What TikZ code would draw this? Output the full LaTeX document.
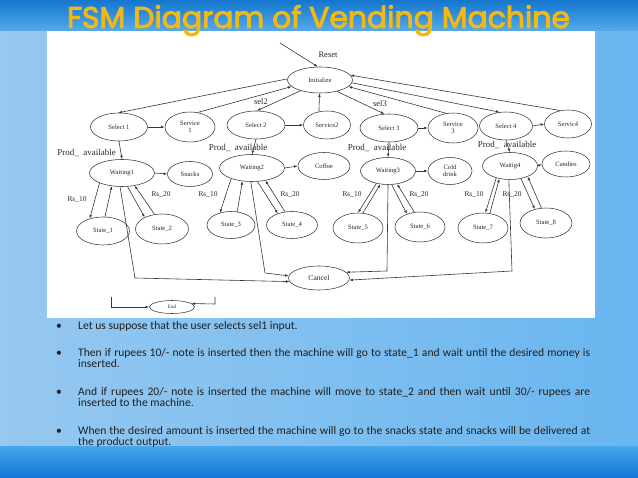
\documentclass[tikz,border=0pt]{standalone}
\usepackage{fontspec}
\setmainfont{Liberation Serif}
\newfontfamily\titlefont[FakeBold=3]{Poppins}
\newfontfamily\bodyfont{Carlito}
\usetikzlibrary{shapes.geometric,arrows.meta}
\definecolor{ttl}{RGB}{242,184,20}
\definecolor{ln}{RGB}{55,55,55}
\definecolor{txt}{RGB}{40,40,40}
\definecolor{bgL}{RGB}{150,200,240}
\definecolor{bgR}{RGB}{105,182,240}
\definecolor{topA}{RGB}{20,118,205}
\definecolor{topB}{RGB}{85,170,235}
\definecolor{botA}{RGB}{70,165,235}
\definecolor{botB}{RGB}{15,118,212}
\begin{document}
\begin{tikzpicture}[x=1pt,y=-1pt,
  st/.style={ellipse,draw=ln,line width=0.55pt,inner sep=0pt,text=txt,
    font=\fontsize{6.6}{7}\selectfont,align=center},
  sz/.style 2 args={minimum width=#1pt,minimum height=#2pt},
  ar/.style={draw=ln,line width=0.6pt,-{Latex[length=3.6pt,width=2.6pt]}},
  lab/.style={inner sep=0pt,text=txt,font=\fontsize{8.5}{9}\selectfont},
  prod/.style={inner sep=0pt,text=txt,font=\fontsize{9}{10}\selectfont},
  rs/.style={inner sep=0pt,text=txt,font=\fontsize{7.4}{8}\selectfont},
  bt/.style={inner sep=0pt,anchor=base west,text=black!88,font=\bodyfont\fontsize{11.6}{11}\selectfont}]
\useasboundingbox (0,0) rectangle (638,478);
% background
\shade[left color=bgL,middle color=white,right color=bgR] (0,0) rectangle (638,478);
\shade[top color=topA,bottom color=topB] (0,0) rectangle (638,31);
\shade[top color=botA,bottom color=botB] (0,447) rectangle (638,478);
\fill[white] (47,31) rectangle (595,318);
% title
\node[inner sep=0pt,anchor=base,text=ttl,font=\titlefont\fontsize{30}{32}\selectfont] (title) at (318.5,28)
  {\resizebox{503pt}{\height}{FSM Diagram of Vending Machine}};
% states row 0/1
\node[st,sz={65}{26}] (init) at (320,80) {Initialize};
\node[st,sz={57}{28}] (sel1) at (119,127) {Select 1};
\node[st,sz={50}{30}] (serv1) at (190,127) {Service\\1};
\node[st,sz={58}{28}] (sel2) at (256,125) {Select 2};
\node[st,sz={47}{28}] (serv2) at (327,125) {Service2};
\node[st,sz={58}{28}] (sel3) at (389,128) {Select 3};
\node[st,sz={50}{30}] (serv3) at (453,128) {Service\\3};
\node[st,sz={53}{28}] (sel4) at (506,126) {Select 4};
\node[st,sz={47}{28}] (serv4) at (568,124) {Servic4};
% waiting row
\node[st,sz={65}{27}] (w1) at (122,173) {Waiting1};
\node[st,sz={45}{25}] (snacks) at (190,174) {Snacks};
\node[st,sz={65}{27}] (w2) at (252,168) {Waiting2};
\node[st,sz={52}{27}] (coffee) at (324,166) {Coffee};
\node[st,sz={55}{27}] (w3) at (388,171) {Waiting3};
\node[st,sz={44}{27}] (cold) at (450,171) {Cold\\drink};
\node[st,sz={55}{27}] (w4) at (510,166) {Waitig4};
\node[st,sz={48}{26}] (candies) at (566,164) {Candies};
% state row
\node[st,sz={53}{28}] (s1) at (103,231) {State\_1};
\node[st,sz={53}{30}] (s2) at (162,229) {State\_2};
\node[st,sz={48}{27}] (s3) at (231,225) {State\_3};
\node[st,sz={51}{27}] (s4) at (292,225) {State\_4};
\node[st,sz={50}{30}] (s5) at (358,228) {State\_5};
\node[st,sz={50}{30}] (s6) at (420,227) {State\_6};
\node[st,sz={50}{30}] (s7) at (483,228) {State\_7};
\node[st,sz={52}{30}] (s8) at (546,223) {State\_8};
\node[st,sz={61}{24},font=\fontsize{7.6}{8}\selectfont] (cancel) at (319,278) {Cancel};
\node[st,sz={45}{13},font=\fontsize{5}{5}\selectfont] (endst) at (172,307) {End};
% labels
\node[lab] (lreset) at (328,55) {Reset};
\node[lab] (lsel2) at (261,102) {sel2};
\node[lab] (lsel3) at (380,104) {sel3};
\node[prod,anchor=east] (lp1) at (116,153) {Prod\_\ \ available};
\node[prod] (lp2) at (238,148) {Prod\_\ \ available};
\node[prod] (lp3) at (377,148) {Prod\_\ \ available};
\node[prod] (lp4) at (507,145) {Prod\_\ \ available};
\node[rs] (r1) at (77,200) {Rs\_10};
\node[rs] (r2) at (161,195) {Rs\_20};
\node[rs] (r3) at (208,195) {Rs\_10};
\node[rs] (r4) at (290,195) {Rs\_20};
\node[rs] (r5) at (352,195) {Rs\_10};
\node[rs] (r6) at (419,195) {Rs\_20};
\node[rs] (r7) at (474,195) {Rs\_10};
\node[rs] (r8) at (512,195) {Rs\_20};
% top connectors
\coordinate (rsin) at (280,43);
\draw[ar] (rsin) -- (init.100);
\draw[ar] (init.178) -- (sel1.92);
\draw[ar] (serv1.62) -- (init.193);
\draw[ar] (init.209) -- (sel2.86);
\draw[ar] (serv2.121) -- (init.-92);
\draw[ar] (sel1.east) -- (serv1.west);
\draw[ar] (sel2.east) -- (serv2.west);
\draw[ar] (init.-34) -- (sel3.108);
\draw[ar] (serv3.115) -- (init.-13);
\draw[ar] (init.-5) -- (sel4.115);
\draw[ar] (serv4.120) -- (init.9);
\draw[ar] (sel3.east) -- (serv3.west);
\draw[ar] (sel4.east) -- (serv4.west);
% to waiting
\draw[ar] (sel1.south) -- (w1.north);
\draw[ar] (sel2.south) -- (w2.north);
\draw[ar] (sel3.south) -- (w3.north);
\draw[ar] (sel4.south) -- (w4.north);
\draw[ar] (w1.east) -- (snacks.west);
\draw[ar] (w2.east) -- (coffee.west);
\draw[ar] (w3.east) -- (cold.west);
\draw[ar] (w4.east) -- (candies.west);
% money loops
\draw[ar] (w1.204) -- (s1.137);
\draw[ar] (s1.82) -- (w1.232);
\draw[ar] (w1.-68) -- (s2.146);
\draw[ar] (s2.117) -- (w1.-45);
\draw[ar] (w2.207) -- (s3.132);
\draw[ar] (s3.65) -- (w2.234);
\draw[ar] (w2.-68) -- (s4.141);
\draw[ar] (s4.118) -- (w2.-43);
\draw[ar] (w3.227) -- (s5.90);
\draw[ar] (s5.72) -- (w3.240);
\draw[ar] (w3.-75) -- (s6.135);
\draw[ar] (s6.111) -- (w3.-55);
\draw[ar] (w4.221) -- (s7.81);
\draw[ar] (s7.65) -- (w4.230);
\draw[ar] (w4.-49) -- (s8.129);
\draw[ar] (s8.107) -- (w4.-31);
% cancel
\coordinate (c1) at (135,278);
\coordinate (c2) at (265,273);
\coordinate (c3) at (387,271);
\coordinate (c4) at (512,271);
\draw[ar] (w1.262) -- (c1) -- (cancel.187);
\draw[ar] (w2.265) -- (c2) -- (cancel.176);
\draw[ar] (w3.south) -- (c3) -- (cancel.12);
\draw[ar] (w4.265) -- (c4) -- (cancel.-4);
% end
\coordinate (endLtop) at (111,297);
\coordinate (endRtop) at (215,297);
\coordinate (endRbot) at (215,304);
\draw[ar] (endLtop) |- (endst.west);
\draw[ar] (endRtop) -- (endRbot) -- (endst.10);
% body text
\node[bt] (u1) at (56,330) {•};
\node[bt] (u2) at (56,357) {•};
\node[bt] (u3) at (56,396) {•};
\node[bt] (u4) at (56,435) {•};
\node[bt] (t1) at (78,330) {Let us suppose that the user selects sel1 input.};
\node[bt] (t2a) at (78,357) {\makebox[512pt][s]{Then if rupees 10/- note is inserted then the machine will go to state\_1 and wait until the desired money is}};
\node[bt] (t2b) at (78,368) {inserted.};
\node[bt] (t3a) at (78,396) {\makebox[512pt][s]{And if rupees 20/- note is inserted the machine will move to state\_2 and then wait until 30/- rupees are}};
\node[bt] (t3b) at (78,407) {inserted to the machine.};
\node[bt] (t4a) at (78,435) {\makebox[512pt][s]{When the desired amount is inserted the machine will go to the snacks state and snacks will be delivered at}};
\node[bt] (t4b) at (78,446) {the product output.};
\end{tikzpicture}
\end{document}
